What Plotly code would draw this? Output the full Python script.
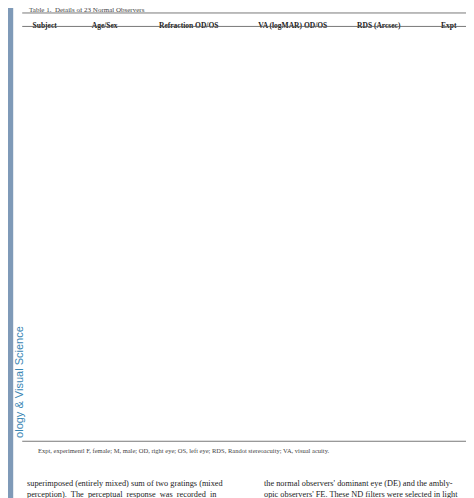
import plotly.graph_objects as go

subjects = ["N%d" % i for i in range(1, 24)]
age_sex = ["24/F", "24/F", "23/F", "24/F", "23/F", "24/F", "25/F", "24/F", "28/F", "23/M",
           "24/F", "23/M", "25/F", "25/F", "24/F", "24/F", "24/M", "25/M", "23/F", "26/F",
           "23/F", "25/F", "26/M"]
refr_od = ["−4.50/−0.25*30", "−6.00", "−3.00/−1.25*5", "−4.00/−0.50*140", "−4.00/−0.25*143",
           "−0.75/−0.50*50", "−3.75", "Plano", "−2.25", "−3.25", "−3.75/−0.50*35", "−1.75",
           "−0.75/−0.25*35", "−3.25", "−2.25/−0.25*90", "−4.00/−1.25*3", "−4.00/−1.25*3",
           "−2.00/−0.50*40", "−3.75/−0.50*10", "−4.75", "−5.00/−0.50*100", "−1.75/−1.25*75",
           "−0.25/−0.25*180"]
refr_os = ["−4.75/−0.50*130", "−5.00", "−2.75/−1.25*170", "−2.75/−1.00*20", "−3.50/−0.75*145",
           "−1.25/−1.00*175", "−3.75/−1.00*10", "+0.50", "−2.75/−0.25*47", "−3.50",
           "−4.00/−1.00*135", "−1.75", "−0.75", "−3.25/−1.00*170", "−1.75/−0.50*85",
           "−3.25/−0.75*150", "−3.25/−0.75*150", "−2.25/−0.50*165", "−3.00/−1.00*175", "−4.75",
           "−5.50", "−0.75/−1.25*75", "0.00/−0.25*55"]
va_od = ["−0.06", "−0.1", "−0.1", "−0.08", "−0.1", "0", "0", "−0.06", "0", "−0.1", "0", "0",
         "−0.1", "−0.18", "0", "0", "−0.08", "−0.16", "−0.1", "−0.1", "0", "−0.02", "0"]
va_os = ["−0.06", "−0.16", "−0.1", "−0.08", "−0.1", "0", "0", "−0.08", "0", "−0.1", "0", "0",
         "−0.1", "−0.1", "0", "0", "−0.1", "−0.16", "−0.02", "−0.2", "0", "−0.04", "0"]
rds = ["20", "20", "20", "30", "20", "25", "25", "20", "20", "25", "25", "20", "20", "20",
       "20", "20", "20", "20", "20", "20", "20", "20", "20"]
expt = ["1, 2A, 2B", "1, 2A, 2B", "1, 2A, 2B", "1", "1", "1", "1", "1", "1", "1", "1", "1", "1",
        "1, 2A, 2B", "1, 2A, 2B", "1, 2A, 2B", "1, 2A, 2B", "1, 2A, 2B", "1, 2A, 2B", "1, 2A, 2B",
        "2B", "2B", "2B"]
headers = ["Subject", "Age/Sex", "Refraction OD/OS", "VA (logMAR) OD/OS", "RDS (Arcsec)", "Expt"]


def pair(a, b=None):
    out = []
    for i, v in enumerate(a):
        out.append(v)
        out.append(b[i] if b else " ")
    return out


cols = [pair(subjects), pair(age_sex), pair(refr_od, refr_os), pair(va_od, va_os),
        pair(rds), pair(expt)]

serif = "Liberation Serif"
fig = go.Figure(go.Table(
    domain=dict(x=[0.035, 1.0], y=[0.12, 0.99]),
    columnwidth=[55, 62, 118, 105, 80, 70],
    header=dict(values=["<b>%s</b>" % h for h in headers], align=["left"] + ["center"] * 5,
                fill=dict(color="white"), line=dict(color="white", width=0), height=13,
                font=dict(family=serif, size=7.5, color="#222")),
    cells=dict(values=cols, align=["left", "center", "center", "left", "center", "center"],
               fill=dict(color="white"), line=dict(color="white", width=0), height=9,
               font=dict(family=serif, size=7, color="#444")),
))

# rules
for y in [0.99, 0.963, 0.13]:
    fig.add_shape(type="line", xref="paper", yref="paper", x0=0.03, x1=1, y0=y, y1=y,
                  line=dict(color="#555", width=0.8))
fig.add_shape(type="rect", xref="paper", yref="paper", x0=0, x1=0.011, y0=0, y1=1,
              fillcolor="#7f9ab8", line_width=0)

fig.add_annotation(text="Table 1.  Details of 23 Normal Observers", xref="paper", yref="paper",
                   x=0.04, y=1.008, xanchor="left", yanchor="top", showarrow=False,
                   font=dict(family=serif, size=7, color="#444"))
fig.add_annotation(text="Expt, experimentl F, female; M, male; OD, right eye; OS, left eye; RDS, Randot stereoacuity; VA, visual acuity.",
                   xref="paper", yref="paper", x=0.06, y=0.122, xanchor="left", yanchor="top",
                   showarrow=False, font=dict(family=serif, size=6.5, color="#444"))
fig.add_annotation(text="superimposed (entirely mixed) sum of two gratings (mixed<br>perception).  The  perceptual  response  was  recorded  in",
                   xref="paper", yref="paper", x=0.035, y=0.058, xanchor="left", yanchor="top",
                   align="left", showarrow=False, font=dict(family=serif, size=8.3, color="#222"))
fig.add_annotation(text="the normal observers' dominant eye (DE) and the ambly-<br>opic observers' FE. These ND filters were selected in light",
                   xref="paper", yref="paper", x=0.535, y=0.058, xanchor="left", yanchor="top",
                   align="left", showarrow=False, font=dict(family=serif, size=8.3, color="#222"))
fig.add_annotation(text="ology & Visual Science", xref="paper", yref="paper", x=0.022, y=0.25,
                   xanchor="center", yanchor="middle", textangle=-90, showarrow=False,
                   font=dict(family="Liberation Sans", size=11, color="#3a86b4"))

fig.update_layout(width=474, height=498, margin=dict(l=0, r=0, t=0, b=0),
                  paper_bgcolor="white")
fig.write_html("out.html")
